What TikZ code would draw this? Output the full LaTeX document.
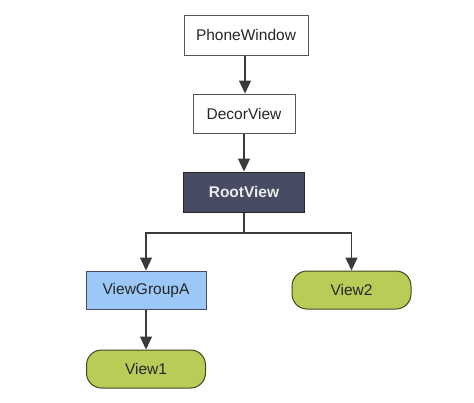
\documentclass[tikz,border=0pt]{standalone}
\usepackage{fontspec}
\setmainfont{Liberation Sans}
\usetikzlibrary{arrows.meta}
\definecolor{edge}{HTML}{3A3A3A}
\definecolor{boxedge}{HTML}{555555}
\definecolor{rootfill}{HTML}{474B63}
\definecolor{bluefill}{HTML}{9CC8F7}
\definecolor{greenfill}{HTML}{B7CD58}
\definecolor{greenedge}{HTML}{3F4A22}
\definecolor{txt}{HTML}{262626}
\tikzset{
  box/.style={draw=boxedge, line width=1pt, inner sep=0pt, text=txt,
    font=\fontsize{15.5}{18}\selectfont},
  plainbox/.style={box, fill=white},
  rootbox/.style={box, fill=rootfill, draw=black!85, text=white!92!black},
  groupbox/.style={box, fill=bluefill, draw=boxedge!85!blue},
  leafbox/.style={box, fill=greenfill, draw=greenedge, rounded corners=15pt},
  arr/.style={draw=edge, line width=1.3pt, -{Triangle[length=13pt,width=12pt]}},
  ln/.style={draw=edge, line width=1.3pt}
}
\begin{document}
\begin{tikzpicture}[x=1pt,y=-1pt]
\useasboundingbox (0,0) rectangle (474,402);
\node[plainbox, minimum width=124pt, minimum height=40pt] (pw) at (246,35) {PhoneWindow};
\node[plainbox, minimum width=102pt, minimum height=39pt] (dv) at (244,113.5) {DecorView};
\node[rootbox, minimum width=121pt, minimum height=40pt] (rv) at (244,192) {\textbf{RootView}};
\node[groupbox, minimum width=120pt, minimum height=38pt] (vga) at (146,290) {ViewGroupA};
\node[leafbox, minimum width=119pt, minimum height=38pt] (v2) at (351.5,290) {View2};
\node[leafbox, minimum width=119pt, minimum height=38pt] (v1) at (146,369) {View1};
\coordinate (split) at (244,233);
\draw[arr] (pw.south -| 245,0) -- (dv.north -| 245,0);
\draw[arr] (dv.south) -- (rv.north);
\draw[ln] (rv.south) -- (split);
\draw[arr] (split) -| (vga.north);
\draw[arr] (split) -| (v2.north);
\draw[arr] (vga.south) -- (v1.north);
\end{tikzpicture}
\end{document}
